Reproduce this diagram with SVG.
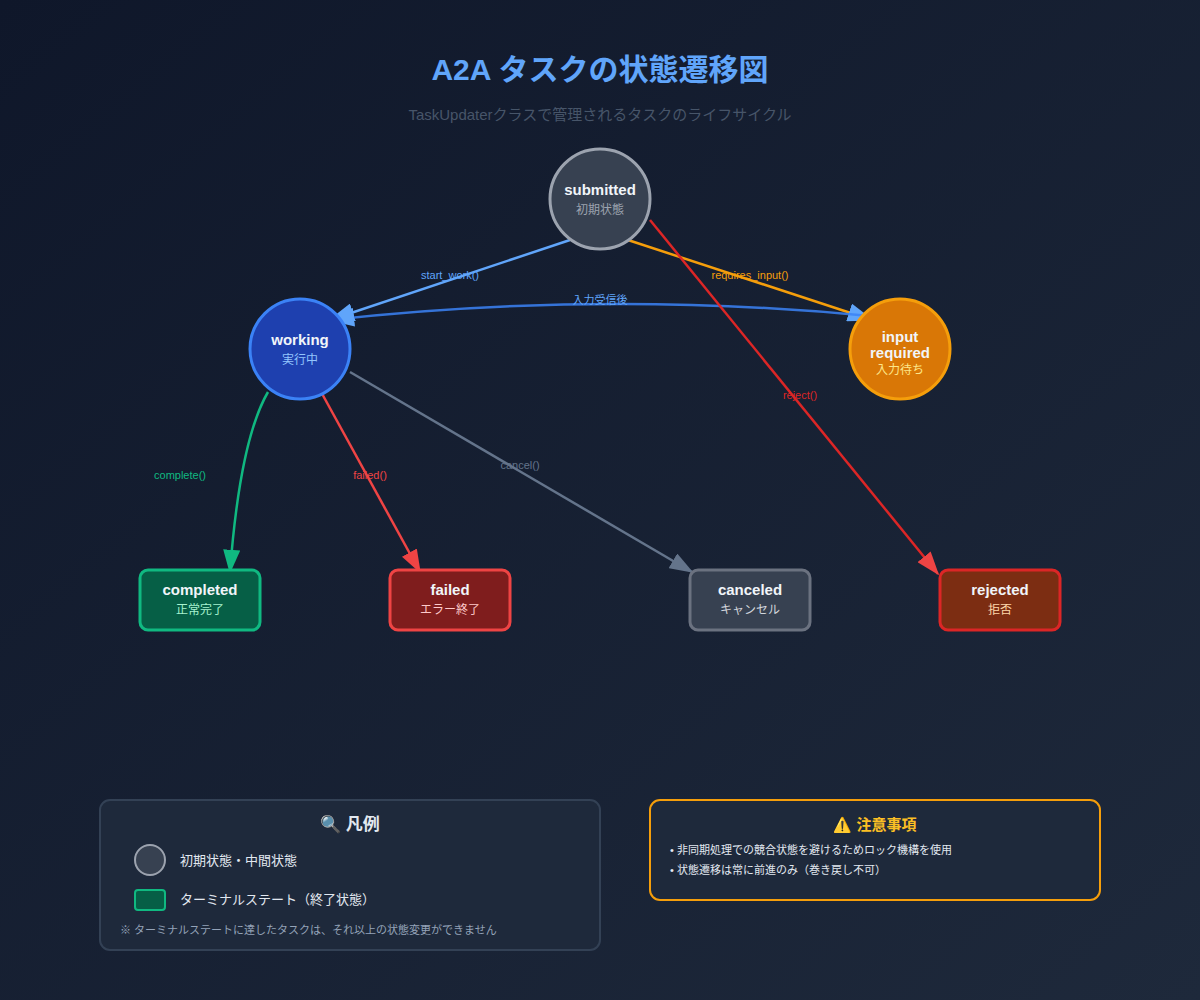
<svg xmlns="http://www.w3.org/2000/svg" width="1200" height="1000" viewBox="0 0 1200 1000">
<defs>
<linearGradient id="bg" x1="0" y1="0" x2="1" y2="1"><stop offset="0" stop-color="#0f172a"/><stop offset="1" stop-color="#1e293b"/></linearGradient>
<marker id="aB" viewBox="0 0 14 10" refX="13" refY="5" markerWidth="26" markerHeight="18.6" markerUnits="userSpaceOnUse" orient="auto"><path d="M0,0L14,5L0,10z" fill="#60a5fa"/></marker>
<marker id="aO" viewBox="0 0 14 10" refX="13" refY="5" markerWidth="26" markerHeight="18.6" markerUnits="userSpaceOnUse" orient="auto"><path d="M0,0L14,5L0,10z" fill="#60a5fa"/></marker>
<marker id="aR" viewBox="0 0 14 10" refX="13" refY="5" markerWidth="24" markerHeight="17" markerUnits="userSpaceOnUse" orient="auto"><path d="M0,0L14,5L0,10z" fill="#ef4444"/></marker>
<marker id="aG" viewBox="0 0 14 10" refX="13" refY="5" markerWidth="24" markerHeight="17" markerUnits="userSpaceOnUse" orient="auto"><path d="M0,0L14,5L0,10z" fill="#10b981"/></marker>
<marker id="aS" viewBox="0 0 14 10" refX="13" refY="5" markerWidth="24" markerHeight="17" markerUnits="userSpaceOnUse" orient="auto"><path d="M0,0L14,5L0,10z" fill="#64748b"/></marker>
</defs>
<style>
text{font-family:"Liberation Sans","Noto Sans CJK JP",sans-serif;text-anchor:middle}
.t{font-weight:bold;font-size:15px;fill:#f1f5f9}
.s{font-size:12px}
.l{font-size:11px}
.e{fill:none;stroke-width:2.5}
</style>
<rect width="1200" height="1000" fill="url(#bg)"/>
<text x="600" y="80" font-size="30" font-weight="bold" fill="#60a5fa">A2A タスクの状態遷移図</text>
<text x="600" y="120" font-size="15" fill="#475569">TaskUpdaterクラスで管理されるタスクのライフサイクル</text>
<g id="connectors">
<path class="e" d="M570,240 L330,320" stroke="#60a5fa" marker-end="url(#aB)"/>
<path class="e" d="M628,240 L872,320" stroke="#f59e0b" marker-end="url(#aO)"/>
<path class="e" d="M870,316 Q600,290 330,320" stroke="#3b82f6" stroke-opacity="0.85" marker-end="url(#aB)"/>
<path class="e" d="M650,220 L938,574" stroke="#dc2626" marker-end="url(#aR)"/>
<path class="e" d="M268,392 Q240,440 230,572" stroke="#10b981" marker-end="url(#aG)"/>
<path class="e" d="M320,390 L420,572" stroke="#ef4444" marker-end="url(#aR)"/>
<path class="e" d="M350,372 L692,572" stroke="#64748b" marker-end="url(#aS)"/>
<text class="l" x="450" y="279" fill="#60a5fa">start_work()</text>
<text class="l" x="750" y="279" fill="#f59e0b">requires_input()</text>
<text class="l" x="600" y="304" fill="#60a5fa">入力受信後</text>
<text class="l" x="800" y="399" fill="#dc2626">reject()</text>
<text class="l" x="180" y="479" fill="#10b981">complete()</text>
<text class="l" x="370" y="479" fill="#ef4444">failed()</text>
<text class="l" x="520" y="469" fill="#64748b">cancel()</text>
</g>
<g id="submitted"><circle cx="600" cy="199" r="50" fill="#374151" stroke="#9ca3af" stroke-width="3"/><text class="t" x="600" y="195">submitted</text><text class="s" x="600" y="214" fill="#9ca3af">初期状態</text></g>
<g id="working"><circle cx="300" cy="349" r="50" fill="#1e40af" stroke="#3b82f6" stroke-width="3"/><text class="t" x="300" y="345">working</text><text class="s" x="300" y="364" fill="#93c5fd">実行中</text></g>
<g id="input-required"><circle cx="900" cy="349" r="50" fill="#d97706" stroke="#f59e0b" stroke-width="3"/><text class="t" x="900" y="342" font-size="13">input</text><text class="t" x="900" y="358" font-size="13">required</text><text class="s" x="900" y="374" font-size="10" fill="#fde68a">入力待ち</text></g>
<g id="completed"><rect x="140" y="570" width="120" height="60" rx="8" fill="#065f46" stroke="#10b981" stroke-width="3"/><text class="t" x="200" y="595">completed</text><text class="s" x="200" y="614" fill="#a7f3d0">正常完了</text></g>
<g id="failed"><rect x="390" y="570" width="120" height="60" rx="8" fill="#7f1d1d" stroke="#ef4444" stroke-width="3"/><text class="t" x="450" y="595">failed</text><text class="s" x="450" y="614" fill="#fecaca">エラー終了</text></g>
<g id="canceled"><rect x="690" y="570" width="120" height="60" rx="8" fill="#374151" stroke="#6b7280" stroke-width="3"/><text class="t" x="750" y="595">canceled</text><text class="s" x="750" y="614" fill="#d1d5db">キャンセル</text></g>
<g id="rejected"><rect x="940" y="570" width="120" height="60" rx="8" fill="#7c2d12" stroke="#dc2626" stroke-width="3"/><text class="t" x="1000" y="595">rejected</text><text class="s" x="1000" y="614" fill="#fed7aa">拒否</text></g>
<g id="legend"><rect x="100" y="800" width="500" height="150" rx="10" fill="#1e293b" stroke="#334155" stroke-width="2"/>
<text x="350" y="830" font-size="17" font-weight="bold" fill="#e2e8f0">🔍 凡例</text>
<circle cx="150" cy="860" r="15" fill="#374151" stroke="#9ca3af" stroke-width="2"/>
<text x="180" y="865" font-size="13" fill="#e2e8f0" style="text-anchor:start">初期状態・中間状態</text>
<rect x="135" y="890" width="30" height="20" rx="3" fill="#065f46" stroke="#10b981" stroke-width="2"/>
<text x="180" y="904" font-size="13" fill="#e2e8f0" style="text-anchor:start">ターミナルステート（終了状態）</text>
<text x="120" y="934" font-size="11" fill="#94a3b8" style="text-anchor:start">※ ターミナルステートに達したタスクは、それ以上の状態変更ができません</text></g>
<g id="notes"><rect x="650" y="800" width="450" height="100" rx="10" fill="#1e293b" stroke="#f59e0b" stroke-width="2"/>
<text x="875" y="830" font-size="15" font-weight="bold" fill="#fbbf24">⚠️ 注意事項</text>
<text x="670" y="854" font-size="11" fill="#e2e8f0" style="text-anchor:start">• 非同期処理での競合状態を避けるためロック機構を使用</text>
<text x="670" y="874" font-size="11" fill="#e2e8f0" style="text-anchor:start">• 状態遷移は常に前進のみ（巻き戻し不可）</text></g>
</svg>
